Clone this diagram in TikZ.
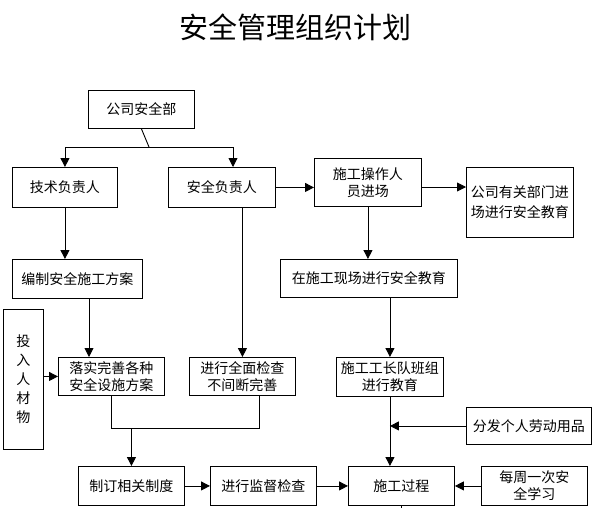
\documentclass[tikz,border=0pt]{standalone}
\usepackage{fontspec}
\newfontfamily\cjk{Noto Sans CJK SC}
\usetikzlibrary{arrows.meta}
\tikzset{
  box/.style={draw, line width=0.9pt, inner sep=0pt, anchor=north west, align=center,
    font=\cjk\fontsize{14}{17}\selectfont},
  conn/.style={line width=0.9pt},
  arr/.style={conn, -{Triangle[width=9pt,length=9pt]}},
}
\begin{document}
\begin{tikzpicture}[x=1pt,y=-1pt]
\useasboundingbox (0,0) rectangle (596,508);
\node[font=\cjk\fontsize{29}{32}\selectfont] (t) at (295,27) {安全管理组织计划};
% boxes
\node[box, minimum width=106pt, minimum height=38pt] (a) at (88,90) {公司安全部};
\node[box, minimum width=105pt, minimum height=40pt] (b) at (12,167) {技术负责人};
\node[box, minimum width=107pt, minimum height=40pt] (c) at (168,167) {安全负责人};
\node[box, minimum width=107pt, minimum height=48pt] (d) at (314,158) {施工操作人\\员进场};
\node[box, minimum width=107pt, minimum height=70pt, font=\cjk\fontsize{14}{20}\selectfont] (e) at (466,167) {公司有关部门进\\场进行安全教育};
\node[box, minimum width=130pt, minimum height=39pt] (f) at (12,259) {编制安全施工方案};
\node[box, minimum width=177pt, minimum height=38pt] (g) at (280,259) {在施工现场进行安全教育};
\node[box, minimum width=40pt, minimum height=140pt, font=\cjk\fontsize{14}{19}\selectfont] (k) at (3,309) {投\\入\\人\\材\\物};
\node[box, minimum width=106pt, minimum height=38pt] (h) at (58,357) {落实完善各种\\安全设施方案};
\node[box, minimum width=106pt, minimum height=38pt] (i) at (189,357) {进行全面检查\\不间断完善};
\node[box, minimum width=107pt, minimum height=39pt] (j) at (336,357) {施工工长队班组\\进行教育};
\node[box, minimum width=125pt, minimum height=37pt] (o) at (466,407) {分发个人劳动用品};
\node[box, minimum width=106pt, minimum height=39pt] (l) at (78,466) {制订相关制度};
\node[box, minimum width=106pt, minimum height=39pt] (m) at (210,466) {进行监督检查};
\node[box, minimum width=106pt, minimum height=39pt] (n) at (348,466) {施工过程};
\node[box, minimum width=106pt, minimum height=39pt] (r) at (481,466) {每周一次安\\全学习};
% helper coordinates
\coordinate (j1) at (149,147);
\coordinate (pc) at (233,0);
\coordinate (pf) at (89,0);
\coordinate (py) at (0,187);
\coordinate (q1) at (0,428);
\coordinate (p2) at (259,0);
\coordinate (bot) at (0,508);
% connectors
\draw[conn] (a.south) -- (j1);
\draw[arr] (j1) -| (b.north);
\draw[arr] (j1) -| (pc |- c.north);
\draw[arr] (c.east) -- (c.east -| d.west);
\draw[arr] (py -| d.east) -- (py -| e.west);
\draw[arr] (b.south) -- (b.south |- f.north);
\draw[arr] (d.south) -- (d.south |- g.north);
\draw[arr] (pf |- f.south) -- (pf |- h.north);
\draw[arr] (i.north |- c.south) -- (i.north);
\draw[arr] (j.north |- g.south) -- (j.north);
\draw[arr] (h.west -| k.east) -- (h.west);
\draw[conn] (h.south) -- (h.south |- q1) -- (p2 |- q1) -- (p2 |- i.south);
\draw[arr] (l.north |- q1) -- (l.north);
\draw[arr] (l.east) -- (m.west);
\draw[arr] (m.east) -- (n.west);
\draw[arr] (j.south) -- (j.south |- n.north);
\draw[arr] (o.west) -- (o.west -| j.south);
\draw[arr] (r.west) -- (n.east);
\draw[conn] (n.south) -- (n.south |- bot);
\end{tikzpicture}
\end{document}
